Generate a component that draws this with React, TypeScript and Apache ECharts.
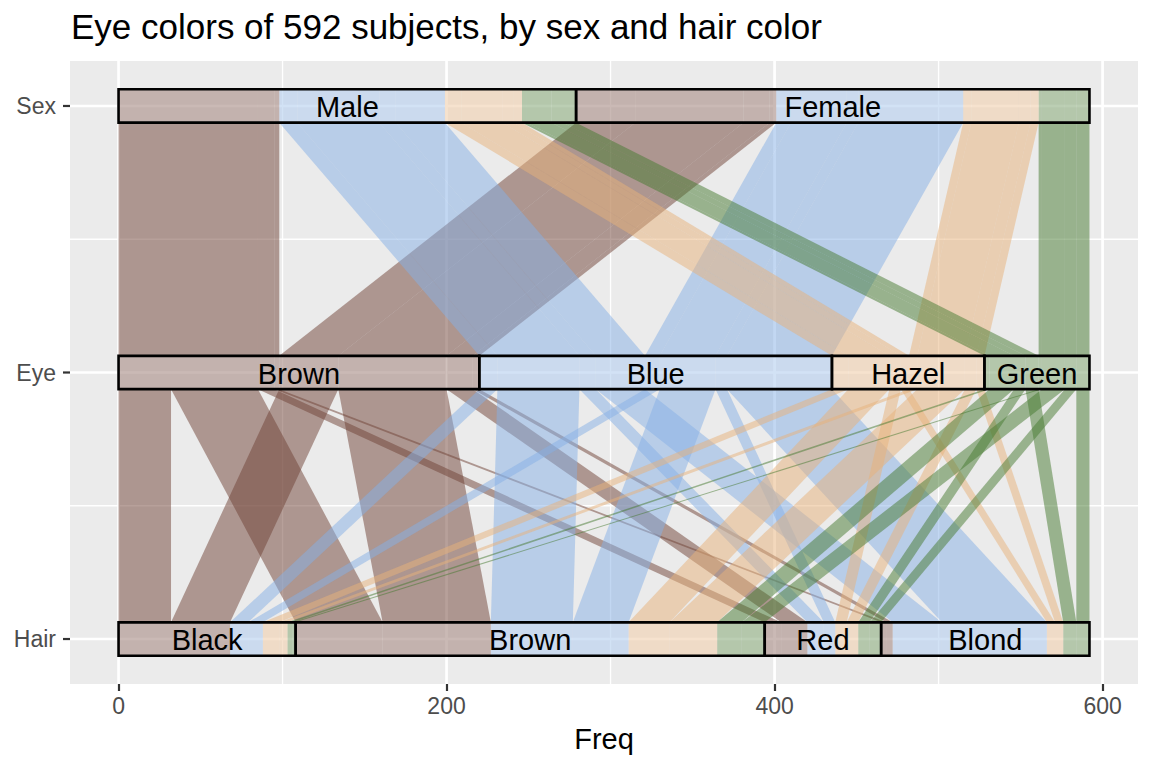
import React, { useEffect, useRef } from "react";
import * as echarts from "echarts";

const hairLevels = ["Black", "Brown", "Red", "Blond"];
const eyeLevels = ["Brown", "Blue", "Hazel", "Green"];
const sexLevels = ["Male", "Female"];
const axisNames = ["Hair", "Eye", "Sex"]; // y = 1, 2, 3

// rows: hair, cols: eye
const maleCounts = [
  [32, 11, 10, 3],
  [53, 50, 25, 15],
  [10, 10, 7, 7],
  [3, 30, 5, 8],
];
const femaleCounts = [
  [36, 9, 5, 2],
  [66, 34, 29, 14],
  [16, 7, 7, 7],
  [4, 64, 5, 8],
];

const eyeColors = ["#6F4135", "#85AFE5", "#E7B179", "#457930"];

const xTicks = [0, 200, 400, 600];
const xMinor = [100, 300, 500];
const yTicks = [1, 2, 3];
const yMinor = [1.5, 2.5];

const FONT = "'Liberation Sans', Arial, Helvetica, sans-serif";
const H = 0.0625; // half box height (y units)
const X_MIN = -29.6;
const X_MAX = 621.6;
const Y_MIN = 0.83125;
const Y_MAX = 3.16875;

type Cell = {
  sex: number;
  eye: number;
  hair: number;
  n: number;
  atSex: number;
  atEye: number;
  atHair: number;
};

const buildCells = () => {
  const counts = [maleCounts, femaleCounts];
  const cells: Cell[] = [];
  sexLevels.forEach((_, s) =>
    hairLevels.forEach((_, h) =>
      eyeLevels.forEach((_, e) =>
        cells.push({ sex: s, eye: e, hair: h, n: counts[s][h][e], atSex: 0, atEye: 0, atHair: 0 })
      )
    )
  );
  const stack = (key: (c: Cell) => number[], field: "atSex" | "atEye" | "atHair") => {
    const sorted = [...cells].sort((a, b) => {
      const ka = key(a);
      const kb = key(b);
      for (let i = 0; i < ka.length; i++) if (ka[i] !== kb[i]) return ka[i] - kb[i];
      return 0;
    });
    let acc = 0;
    sorted.forEach((c) => {
      c[field] = acc;
      acc += c.n;
    });
  };
  stack((c) => [c.sex, c.eye, c.hair], "atSex");
  stack((c) => [c.eye, c.sex, c.hair], "atEye");
  stack((c) => [c.hair, c.eye, c.sex], "atHair");
  return cells;
};

const App: React.FC = () => {
  const chartRef = useRef<HTMLDivElement | null>(null);

  useEffect(() => {
    if (!chartRef.current) return;
    const chart = echarts.init(chartRef.current, null, { renderer: "svg" });

    const cells = buildCells();

    // ribbons drawn in eye order
    const ribbonData = [...cells]
      .sort((a, b) => a.eye - b.eye || a.sex - b.sex || a.hair - b.hair)
      .map((c) => [c.atSex, c.atEye, c.atHair, c.n, c.eye]);

    // coloured pieces inside each box
    const segData: number[][] = [];
    cells.forEach((c) => {
      segData.push([c.atSex, c.n, 3, c.eye]);
      segData.push([c.atEye, c.n, 2, c.eye]);
      segData.push([c.atHair, c.n, 1, c.eye]);
    });

    // category boxes: [start, width, y, axis, level]
    const boxData: number[][] = [];
    const addBoxes = (levels: string[], y: number, axis: number, pick: (c: Cell) => number) => {
      let acc = 0;
      levels.forEach((_, i) => {
        const w = cells.filter((c) => pick(c) === i).reduce((s, c) => s + c.n, 0);
        boxData.push([acc, w, y, axis, i]);
        acc += w;
      });
    };
    addBoxes(sexLevels, 3, 2, (c) => c.sex);
    addBoxes(eyeLevels, 2, 1, (c) => c.eye);
    addBoxes(hairLevels, 1, 0, (c) => c.hair);
    const levelNames = [hairLevels, eyeLevels, sexLevels];

    // grid lines: [orientation(0 = vertical, 1 = horizontal, 2 = y tick), value, major]
    const gridData: number[][] = [
      ...xMinor.map((v) => [0, v, 0]),
      ...yMinor.map((v) => [1, v, 0]),
      ...xTicks.map((v) => [0, v, 1]),
      ...yTicks.map((v) => [1, v, 1]),
      ...yTicks.map((v) => [2, v, 1]),
    ];

    const option = {
      animation: false,
      title: {
        text: "Eye colors of 592 subjects, by sex and hair color",
        left: 71,
        top: 9,
        padding: 0,
        textStyle: { fontSize: 35, fontWeight: "normal", color: "#000", fontFamily: FONT },
      },
      grid: {
        left: 70,
        right: 14,
        top: 61,
        bottom: 84,
        show: true,
        backgroundColor: "#EBEBEB",
        borderWidth: 0,
        containLabel: false,
        outerBoundsMode: "none",
      },
      xAxis: {
        type: "value",
        min: X_MIN,
        max: X_MAX,
        name: "Freq",
        nameLocation: "middle",
        nameGap: 40,
        nameTextStyle: { fontSize: 29, color: "#000", fontFamily: FONT },
        axisLine: { show: false },
        splitLine: { show: false },
        axisTick: { show: true, length: 7, customValues: xTicks, lineStyle: { color: "#333333", width: 2.2 } },
        axisLabel: { customValues: xTicks, fontSize: 23, color: "#4D4D4D", fontFamily: FONT, margin: 10 },
      },
      yAxis: {
        type: "value",
        min: Y_MIN,
        max: Y_MAX,
        axisLine: { show: false },
        splitLine: { show: false },
        axisTick: { show: false },
        axisLabel: {
          customValues: yTicks,
          fontSize: 23,
          color: "#4D4D4D",
          fontFamily: FONT,
          margin: 14,
          formatter: (v: number) => axisNames[Math.round(v) - 1] ?? "",
        },
      },
      series: [
        {
          type: "custom",
          silent: true,
          clip: false,
          data: gridData,
          renderItem: (_p: any, api: any) => {
            const kind = api.value(0);
            const v = api.value(1);
            const major = api.value(2) === 1;
            if (kind === 2) {
              const p = api.coord([X_MIN, v]);
              return {
                type: "line",
                shape: { x1: p[0] - 7, y1: p[1], x2: p[0], y2: p[1] },
                style: { stroke: "#333333", lineWidth: 2.2 },
              };
            }
            const vertical = kind === 0;
            const a = vertical ? api.coord([v, Y_MIN]) : api.coord([X_MIN, v]);
            const b = vertical ? api.coord([v, Y_MAX]) : api.coord([X_MAX, v]);
            return {
              type: "line",
              shape: { x1: a[0], y1: a[1], x2: b[0], y2: b[1] },
              style: { stroke: "#FFFFFF", lineWidth: major ? 2.7 : 1.35 },
            };
          },
        },
        {
          type: "custom",
          silent: true,
          data: ribbonData,
          renderItem: (_p: any, api: any) => {
            const s0 = api.value(0);
            const e0 = api.value(1);
            const h0 = api.value(2);
            const n = api.value(3);
            const color = eyeColors[api.value(4)];
            const band = (a: number, ya: number, b: number, yb: number) => [
              api.coord([a, ya]),
              api.coord([a + n, ya]),
              api.coord([b + n, yb]),
              api.coord([b, yb]),
            ];
            return {
              type: "group",
              children: [
                { type: "polygon", shape: { points: band(s0, 3 - H, e0, 2 + H) }, style: { fill: color, opacity: 0.5 } },
                { type: "polygon", shape: { points: band(e0, 2 - H, h0, 1 + H) }, style: { fill: color, opacity: 0.5 } },
              ],
            };
          },
        },
        {
          type: "custom",
          silent: true,
          data: segData,
          renderItem: (_p: any, api: any) => {
            const x0 = api.value(0);
            const n = api.value(1);
            const y = api.value(2);
            const p0 = api.coord([x0, y + H]);
            const p1 = api.coord([x0 + n, y - H]);
            return {
              type: "rect",
              shape: { x: p0[0], y: p0[1], width: p1[0] - p0[0], height: p1[1] - p0[1] },
              style: { fill: eyeColors[api.value(3)], opacity: 0.5 },
            };
          },
        },
        {
          type: "custom",
          silent: true,
          data: boxData,
          renderItem: (_p: any, api: any) => {
            const x0 = api.value(0);
            const w = api.value(1);
            const y = api.value(2);
            const label = levelNames[api.value(3)][api.value(4)];
            const p0 = api.coord([x0, y + H]);
            const p1 = api.coord([x0 + w, y - H]);
            return {
              type: "group",
              children: [
                {
                  type: "rect",
                  shape: { x: p0[0], y: p0[1], width: p1[0] - p0[0], height: p1[1] - p0[1] },
                  style: { fill: "rgba(255,255,255,0.27)", stroke: "#000000", lineWidth: 2.6 },
                },
                {
                  type: "text",
                  x: (p0[0] + p1[0]) / 2,
                  y: (p0[1] + p1[1]) / 2 + 1,
                  style: {
                    text: label,
                    fill: "#000000",
                    fontSize: 29,
                    fontFamily: FONT,
                    align: "center",
                    verticalAlign: "middle",
                  },
                },
              ],
            };
          },
        },
      ],
    };

    chart.setOption(option);
    return () => {
      chart.dispose();
    };
  }, []);

  return (
    <div
      ref={chartRef}
      style={{ position: "fixed", left: 0, top: 0, width: 1152, height: 768, background: "#FFFFFF" }}
    />
  );
};

export default App;
